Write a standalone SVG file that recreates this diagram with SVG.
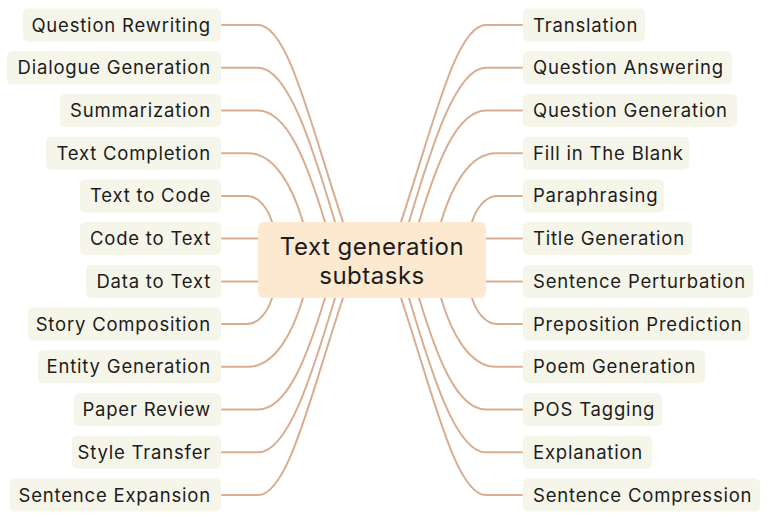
<svg xmlns="http://www.w3.org/2000/svg" width="768" height="521" viewBox="0 0 768 521">
<style>
.c{fill:none;stroke:#d8ae92;stroke-width:2;stroke-linecap:round}
.leaf rect{fill:#f6f5ea}
.leaf text{font-family:Inter,"Open Sans","Noto Sans",sans-serif;font-size:18.5px;fill:#1c1c1c;letter-spacing:0.8px}
.l text{text-anchor:end}
.hub rect{fill:#fde9d0}
.hub text{font-family:Inter,"Open Sans","Noto Sans",sans-serif;font-size:24px;fill:#1c1c1c;text-anchor:middle;letter-spacing:0.5px}
</style>
<rect width="768" height="521" fill="#ffffff"/>
<g id="connectors">
<path class="c" d="M222,25 H258 C288,25 310,123 343,222"/>
<path class="c" d="M222,67.7 H258 C288,67.7 312,145 335,222"/>
<path class="c" d="M222,110.5 H258 C288,110.5 308,166 325,222"/>
<path class="c" d="M222,153.2 H248 C275,153.2 293,188 303,222"/>
<path class="c" d="M222,195.9 H247 C259,195.9 268,209 272,222"/>
<path class="c" d="M222,238.6 H258"/>
<path class="c" d="M222,281.4 H258"/>
<path class="c" d="M222,324.1 H247 C259,324.1 268,311 272,298"/>
<path class="c" d="M222,366.8 H248 C275,366.8 293,332 303,298"/>
<path class="c" d="M222,409.5 H258 C288,409.5 308,354 325,298"/>
<path class="c" d="M222,452.3 H258 C288,452.3 312,375 335,298"/>
<path class="c" d="M222,495 H258 C288,495 310,397 343,298"/>
<path class="c" d="M522,25 H486 C456,25 434,123 401,222"/>
<path class="c" d="M522,67.7 H486 C456,67.7 432,145 409,222"/>
<path class="c" d="M522,110.5 H486 C456,110.5 436,166 419,222"/>
<path class="c" d="M522,153.2 H496 C469,153.2 451,188 441,222"/>
<path class="c" d="M522,195.9 H497 C485,195.9 476,209 472,222"/>
<path class="c" d="M522,238.6 H486"/>
<path class="c" d="M522,281.4 H486"/>
<path class="c" d="M522,324.1 H497 C485,324.1 476,311 472,298"/>
<path class="c" d="M522,366.8 H496 C469,366.8 451,332 441,298"/>
<path class="c" d="M522,409.5 H486 C456,409.5 436,354 419,298"/>
<path class="c" d="M522,452.3 H486 C456,452.3 432,375 409,298"/>
<path class="c" d="M522,495 H486 C456,495 434,397 401,298"/>
</g>
<g id="hub" class="hub">
<rect x="258" y="222" width="228" height="76" rx="6"/>
<text x="372" y="255">Text generation</text>
<text x="372" y="284">subtasks</text>
</g>
<g id="n-question-rewriting" class="leaf l"><rect x="23" y="8.5" width="198" height="33" rx="5"/><text x="211" y="31.5">Question Rewriting</text></g>
<g id="n-dialogue-generation" class="leaf l"><rect x="7" y="51.2" width="214" height="33" rx="5"/><text x="211" y="74.2">Dialogue Generation</text></g>
<g id="n-summarization" class="leaf l"><rect x="60" y="94" width="161" height="33" rx="5"/><text x="211" y="117">Summarization</text></g>
<g id="n-text-completion" class="leaf l"><rect x="46" y="136.7" width="175" height="33" rx="5"/><text x="211" y="159.7">Text Completion</text></g>
<g id="n-text-to-code" class="leaf l"><rect x="80" y="179.4" width="141" height="33" rx="5"/><text x="211" y="202.4">Text to Code</text></g>
<g id="n-code-to-text" class="leaf l"><rect x="80" y="222.1" width="141" height="33" rx="5"/><text x="211" y="245.1">Code to Text</text></g>
<g id="n-data-to-text" class="leaf l"><rect x="86" y="264.9" width="135" height="33" rx="5"/><text x="211" y="287.9">Data to Text</text></g>
<g id="n-story-composition" class="leaf l"><rect x="28" y="307.6" width="193" height="33" rx="5"/><text x="211" y="330.6">Story Composition</text></g>
<g id="n-entity-generation" class="leaf l"><rect x="38" y="350.3" width="183" height="33" rx="5"/><text x="211" y="373.3">Entity Generation</text></g>
<g id="n-paper-review" class="leaf l"><rect x="74" y="393" width="147" height="33" rx="5"/><text x="211" y="416">Paper Review</text></g>
<g id="n-style-transfer" class="leaf l"><rect x="72" y="435.8" width="149" height="33" rx="5"/><text x="211" y="458.8">Style Transfer</text></g>
<g id="n-sentence-expansion" class="leaf l"><rect x="10" y="478.5" width="211" height="33" rx="5"/><text x="211" y="501.5">Sentence Expansion</text></g>
<g id="n-translation" class="leaf r"><rect x="523" y="8.5" width="122" height="33" rx="5"/><text x="533" y="31.5">Translation</text></g>
<g id="n-question-answering" class="leaf r"><rect x="523" y="51.2" width="209" height="33" rx="5"/><text x="533" y="74.2">Question Answering</text></g>
<g id="n-question-generation" class="leaf r"><rect x="523" y="94" width="214" height="33" rx="5"/><text x="533" y="117">Question Generation</text></g>
<g id="n-fill-in-the-blank" class="leaf r"><rect x="523" y="136.7" width="166" height="33" rx="5"/><text x="533" y="159.7">Fill in The Blank</text></g>
<g id="n-paraphrasing" class="leaf r"><rect x="523" y="179.4" width="141" height="33" rx="5"/><text x="533" y="202.4">Paraphrasing</text></g>
<g id="n-title-generation" class="leaf r"><rect x="523" y="222.1" width="169" height="33" rx="5"/><text x="533" y="245.1">Title Generation</text></g>
<g id="n-sentence-perturbation" class="leaf r"><rect x="523" y="264.9" width="230" height="33" rx="5"/><text x="533" y="287.9">Sentence Perturbation</text></g>
<g id="n-preposition-prediction" class="leaf r"><rect x="523" y="307.6" width="226" height="33" rx="5"/><text x="533" y="330.6">Preposition Prediction</text></g>
<g id="n-poem-generation" class="leaf r"><rect x="523" y="350.3" width="182" height="33" rx="5"/><text x="533" y="373.3">Poem Generation</text></g>
<g id="n-pos-tagging" class="leaf r"><rect x="523" y="393" width="139" height="33" rx="5"/><text x="533" y="416">POS Tagging</text></g>
<g id="n-explanation" class="leaf r"><rect x="523" y="435.8" width="129" height="33" rx="5"/><text x="533" y="458.8">Explanation</text></g>
<g id="n-sentence-compression" class="leaf r"><rect x="523" y="478.5" width="237" height="33" rx="5"/><text x="533" y="501.5">Sentence Compression</text></g>
</svg>
